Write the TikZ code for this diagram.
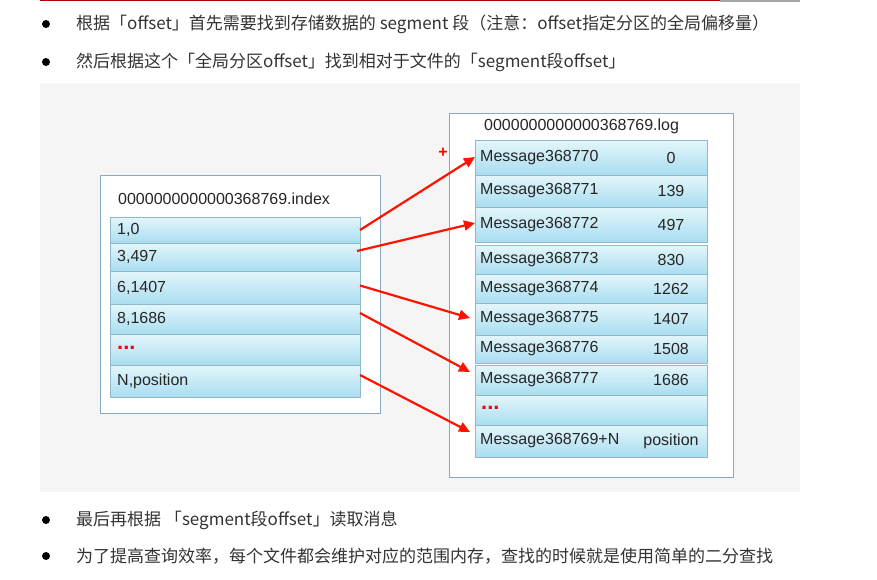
\documentclass[tikz,border=0pt]{standalone}
\usepackage{fontspec}
\setmainfont{Liberation Sans}
\newfontfamily\cjk{Noto Sans CJK SC}
\usetikzlibrary{arrows.meta}
\definecolor{rowtop}{HTML}{E4F6FB}
\definecolor{rowbot}{HTML}{A9DDF0}
\definecolor{rowline}{HTML}{8FB8C8}
\definecolor{frm}{HTML}{8AA8C8}
\begin{document}
\begin{tikzpicture}[x=1pt,y=-1pt,
  row/.style={draw=rowline,top color=rowtop,bottom color=rowbot,line width=0.6pt},
  frame/.style={draw=frm,fill=white,line width=1pt},
  lbl/.style={anchor=west,font=\fontsize{16}{17}\selectfont,text=black!85,inner sep=0pt},
  dots/.style={anchor=west,font=\bfseries\fontsize{22}{22}\selectfont,text=red,inner sep=0pt},
  ptr/.style={draw=red!85!orange,line width=2.2pt,-{Triangle[length=11pt,width=10pt]}},
  txt/.style={anchor=west,font=\cjk\fontsize{17}{19}\selectfont,text=black!80,inner sep=0pt},
  bul/.style={circle,fill=black,inner sep=0pt,minimum size=8pt}]
\useasboundingbox (0,0) rectangle (877,579);
\fill[white] (0,0) rectangle (877,579);
\draw[red!70!black,line width=1.5pt] (40,0.5) -- (720,0.5);
\fill[black!35] (720,0) rectangle (800,1.5);
\fill[black!4] (40,83) rectangle (800,492);
% bullets
\node[bul] (b1) at (46,24) {}; \node[txt] (t1) at (76,24) {根据「offset」首先需要找到存储数据的 segment 段（注意：offset指定分区的全局偏移量）};
\node[bul] (b2) at (46,62) {}; \node[txt] (t2) at (76,62) {然后根据这个「全局分区offset」找到相对于文件的「segment段offset」};
\node[bul] (b3) at (46,520) {}; \node[txt] (t3) at (76,520) {最后再根据 「segment段offset」读取消息};
\node[bul] (b4) at (46,556) {}; \node[txt] (t4) at (76,556) {为了提高查询效率，每个文件都会维护对应的范围内存，查找的时候就是使用简单的二分查找};
% left box
\draw[frame] (100,175) rectangle (380,413);
\node[lbl] (lt) at (118,199) {0000000000000368769.index};
\foreach \n/\a/\b/\t in {r1/217/243/{1,0},r2/243/271/{3,497},r3/271/304/{6,1407},r4/304/334/{8,1686},r6/365/397/{N,position}}{
  \draw[row] (110,\a) rectangle (360,\b);
  \node[lbl] (\n) at (117,{(\a+\b)/2}) {\t};
  \coordinate (\n e) at (360,{(\a+\b)/2});
}
\draw[row] (110,334) rectangle (360,365);
\node[dots] (r5) at (117,348) {...};
% right box
\draw[frame] (449,113) rectangle (733,477);
\node[lbl] (rt) at (484,126) {0000000000000368769.log};
\foreach \n/\a/\b/\t/\o in {m0/140/175/Message368770/0,m1/175/207/Message368771/139,m2/207/242/Message368772/497,m3/245/274/Message368773/830,m4/274/303/Message368774/1262,m5/303/335/Message368775/1407,m6/335/363/Message368776/1508,m7/365/395/Message368777/1686,m9/425/457/Message368769+N/position}{
  \draw[row] (475,\a) rectangle (707,\b);
  \node[lbl] (\n) at (480,{(\a+\b)/2}) {\t};
  \node[lbl,anchor=center] (\n o) at (671,{(\a+\b)/2}) {\o};
  \coordinate (\n w) at (475,{(\a+\b)/2});
}
\draw[row] (475,395) rectangle (707,425);
\node[dots] (m8) at (481,408) {...};
\node[text=red,font=\bfseries\fontsize{16}{16}\selectfont,inner sep=0pt] (plus) at (443,153) {+};
\coordinate (a1) at (475,157); \coordinate (a2) at (475,223);
\coordinate (a3) at (470,318); \coordinate (a4) at (470,372); \coordinate (a5) at (470,432);
\draw[ptr] (r1e) -- (a1);
\draw[ptr] ([xshift=-3pt,yshift=6pt]r2e) -- (a2);
\draw[ptr] ([yshift=2pt]r3e) -- (a3);
\draw[ptr] ([yshift=6pt]r4e) -- (a4);
\draw[ptr] ([yshift=6pt]r6e) -- (a5);
\end{tikzpicture}
\end{document}
